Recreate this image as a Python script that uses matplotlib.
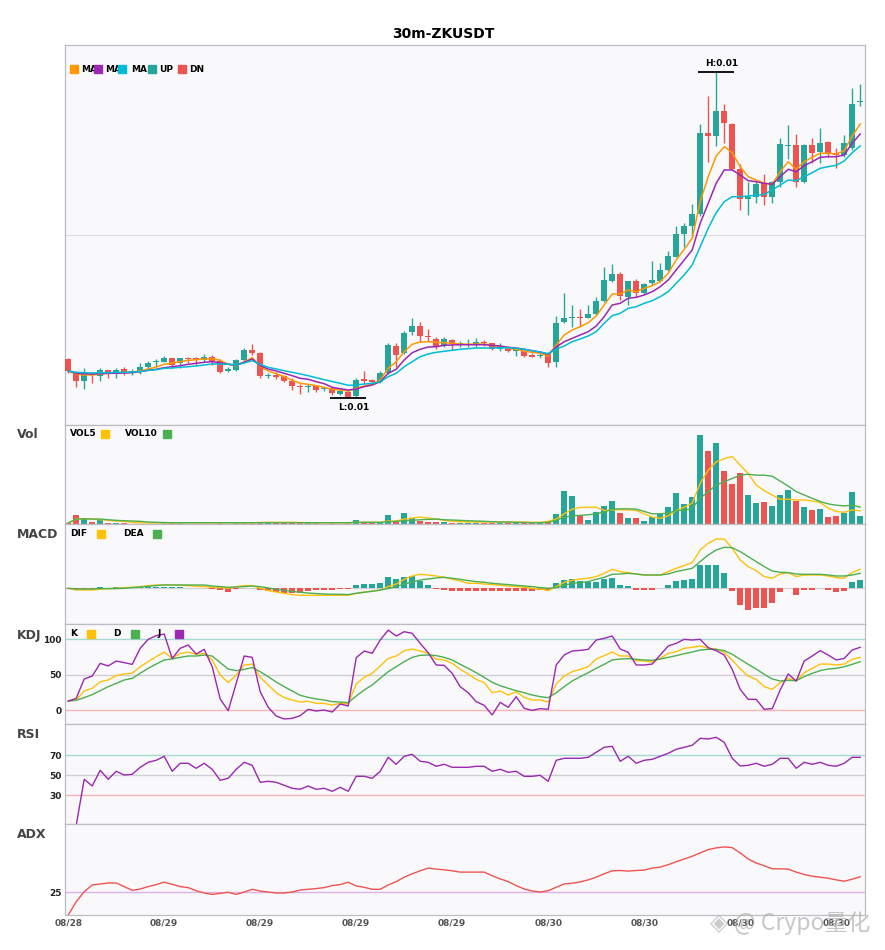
import numpy as np
import matplotlib.pyplot as plt
from matplotlib.patches import Rectangle

# values, prices in units of 1e-5 USDT
date_labels = ['08/28', '08/29', '08/29', '08/29', '08/29', '08/30', '08/30', '08/30', '08/30']
date_idx = [0, 12, 24, 36, 48, 60, 72, 84, 96]

opens = [866, 853.3, 844.3, 851.7, 849.3, 855, 851.7, 856, 853, 854.3,
         857.7, 863, 863.3, 866.7, 861.7, 867.3, 867.3, 865, 868.3, 864.3,
         854.3, 855, 865, 875, 872.3, 849.3, 850, 849.3, 844.3, 839.3,
         837.7, 839.3, 836.3, 836.5, 831.3, 833.3, 829, 845.7, 845, 843.3,
         851.7, 879, 871.7, 892.7, 899.3, 889.3, 886, 880, 885, 880.7,
         880.3, 880, 883.3, 881.7, 876, 878.3, 874.3, 874.3, 869.7, 869,
         871.7, 863.3, 903.3, 907.3, 908.3, 907.3, 911, 924, 944.3, 951,
         928.3, 944, 931.7, 941.7, 944.3, 955, 968.3, 991, 999, 1011,
         1091.7, 1089.3, 1114, 1101, 1056, 1026, 1028.3, 1041.7, 1028.3, 1042.7,
         1079.3, 1080, 1042.7, 1080, 1073.3, 1083, 1072.3, 1070, 1076.7, 1122.7]
highs = [867.3, 854, 856.7, 852, 856.7, 855, 856.7, 858.3, 856, 861.7,
         864, 866, 869.3, 867, 867, 868.3, 868.3, 870.7, 870, 866,
         857.7, 866, 876.7, 881, 873.3, 852.3, 852.7, 850, 846.7, 840.7,
         840.7, 840, 838.3, 837.5, 835.5, 834.5, 846.7, 854, 845.7, 854,
         881.7, 881.7, 894, 907.3, 902.7, 896, 888.3, 888.3, 886, 884.3,
         885.7, 887.3, 885, 882.3, 881.7, 879.3, 878.3, 875, 872.3, 873.3,
         873.3, 909, 931.7, 920, 915.7, 920, 928.3, 957.7, 961, 952.7,
         944, 945.7, 942.3, 964.3, 962.3, 974, 999, 1001.7, 1021, 1101,
         1129, 1153.3, 1121, 1102.3, 1061, 1043.3, 1043.3, 1051, 1044.3, 1087.3,
         1100, 1090.7, 1081, 1087.3, 1097.3, 1084, 1077.3, 1090, 1136.7, 1141]
lows = [851.7, 838.3, 835.7, 842.3, 844.3, 847.3, 846.7, 850, 850, 850.7,
        856.7, 858.3, 862.7, 856.7, 856.7, 861.7, 860, 863.3, 860, 851.7,
        852.7, 854.3, 864, 870, 846.7, 846.7, 845.7, 842.7, 835, 831,
        832.7, 833.3, 834, 830, 829.5, 827.3, 828.3, 842.3, 841.7, 842.3,
        851, 858.3, 871, 890, 883.3, 884.3, 876, 878.3, 875, 878.3,
        878.3, 878.3, 879.3, 875, 874.3, 873.3, 869.3, 868.3, 867.7, 866.7,
        858.3, 857.7, 902.3, 898.3, 899, 906.7, 910, 923.3, 943.3, 925,
        920, 928.3, 930.7, 940, 943.3, 954.3, 967.7, 977.7, 988.3, 1009,
        1063.3, 1079, 1081.7, 1055, 1015, 1010, 1022.3, 1020, 1021.7, 1038.3,
        1065.7, 1038.3, 1042.3, 1062.3, 1062.3, 1067.7, 1056.7, 1068.3, 1075, 1119]
closes = [854.3, 844.3, 851.7, 850, 855, 852.3, 855, 852.3, 853.5, 857.7,
          862, 863.5, 867.3, 860, 866.7, 866, 865, 868.3, 864, 853.3,
          855.7, 865, 875, 871.7, 849.3, 850, 848, 844.3, 839, 837.7,
          839.3, 835, 836.7, 831.7, 834, 828.3, 845, 843.7, 843, 852.3,
          880, 870, 892.3, 899.3, 889.3, 887.7, 878.3, 886, 881, 881.7,
          881, 882.7, 881.7, 876, 879.3, 874.3, 876.7, 869.3, 868.3, 870,
          861.7, 901.7, 906.7, 908.3, 907.3, 911, 924, 945, 951, 929,
          944, 931.7, 941, 945, 955, 969, 991, 999, 1011, 1091.7,
          1089.3, 1114, 1102.3, 1056, 1026, 1028.3, 1041, 1028.3, 1042.7, 1081,
          1080, 1042.7, 1080, 1072.3, 1082.3, 1072.3, 1070, 1082.3, 1121, 1123]

ma5 = [854, 851, 850, 850, 851, 851.7, 852.3, 852.7, 853, 854,
       856, 858, 860.7, 862, 863.3, 864.7, 865.3, 866, 866.3, 864.7,
       860.7, 859.3, 863.3, 867.3, 858.3, 854, 851.3, 848.3, 844.7, 841.7,
       840.7, 839.3, 837.7, 835.7, 835, 834, 836.7, 839, 841, 845,
       856.7, 863.3, 873.3, 880.7, 883, 883.3, 882.7, 882.3, 881.7, 881,
       880.7, 881, 881, 879.7, 878.3, 877, 875.7, 873.7, 872.7, 871.7,
       869, 880, 890, 895, 898.3, 902.3, 909, 920, 931, 931,
       935, 933.3, 936.7, 939.3, 943.3, 951.7, 965, 975.7, 986.7, 1023.3,
       1048.3, 1069, 1078.3, 1072.3, 1058.3, 1048.3, 1045, 1041.7, 1041, 1053.3,
       1063.3, 1055.7, 1063.3, 1067.7, 1071.7, 1071.7, 1071, 1074.3, 1089, 1101]
ma10 = [854, 851.7, 851.3, 851, 851.3, 851.7, 851.7, 852, 852.3, 853.3,
        854.7, 855.7, 857.3, 858.3, 859.3, 860.7, 861.7, 862.7, 863.3, 862.3,
        860.7, 860, 862.7, 866, 859.3, 856, 854, 851.7, 849.3, 846.7,
        845.7, 843.3, 841.3, 837.7, 836.3, 835, 836, 838.3, 840, 843.3,
        851.7, 855.7, 865, 872.3, 875.7, 878, 878.3, 879.7, 880, 880.3,
        880.3, 880.3, 880.3, 879.7, 879, 877.7, 877, 875.7, 874.3, 873,
        870.7, 878, 883.3, 886.7, 890, 893.3, 899, 908.3, 920, 921.7,
        926.7, 927.7, 930, 933.3, 938.3, 945, 955, 965, 975, 1001.7,
        1021.7, 1041.7, 1055, 1055, 1050, 1044.3, 1043.3, 1041.7, 1040.7, 1048.3,
        1055.7, 1053.3, 1059.3, 1063.3, 1067.7, 1068.3, 1068.3, 1070, 1081.7, 1091]
ma20 = [854, 852.7, 852.3, 852, 852.3, 852.3, 852.7, 852.7, 853, 853.3,
        854.7, 855.3, 856.7, 857, 857.7, 858.3, 859, 860, 861, 861,
        860.7, 860, 862, 864.3, 860.7, 857.7, 856, 854.3, 852.7, 851,
        849.3, 847.3, 845.3, 843.5, 841.7, 839.7, 840, 841, 841.7, 843.3,
        848.3, 851.7, 858.3, 863.3, 868.3, 871, 872.7, 873.7, 874.7, 875.7,
        876.3, 877, 877, 877, 877.3, 877.3, 876.7, 875.7, 874.3, 873,
        871.3, 876, 879, 883.3, 886, 889, 893.3, 901.7, 909.3, 911.7,
        916.7, 918.3, 921.7, 924.3, 928.3, 933.3, 941.7, 950, 960, 978.3,
        996.7, 1012.3, 1023.3, 1028.3, 1028.3, 1029, 1029.7, 1030.7, 1035, 1040,
        1045, 1044.3, 1048.3, 1052.3, 1056.7, 1058.3, 1059.7, 1064, 1072.3, 1079]

volume = [1.3, 9, 4.7, 2, 4, 1, 1.3, 1, 0.5, 0.5,
          0.5, 0.5, 0.7, 2, 0.7, 0.5, 0.5, 0.5, 0.5, 0.7,
          0.5, 0.7, 1, 0.7, 2, 2, 1, 2, 1, 0.7,
          1, 0.7, 0.5, 0.7, 0.5, 0.7, 4, 1, 1, 1.3,
          9, 1.7, 11, 5.7, 3, 1.7, 2, 2.3, 1.3, 1.3,
          0.7, 0.7, 0.7, 1, 0.7, 0.7, 0.7, 1, 0.7, 0.7,
          2, 10, 33.3, 28, 9, 4, 12, 18, 23, 11,
          6, 6, 3, 7, 10, 17, 31, 20, 27, 90.3,
          74, 82, 54, 40, 52, 29, 21, 22, 18, 29,
          34, 23, 17, 14, 15, 7, 8, 11, 32, 8]
vol5 = [1, 5, 5.3, 5, 4.3, 3.7, 3, 2.7, 1.5, 1.3,
        1, 1, 1, 1.2, 1, 1, 1, 1, 1, 1,
        1, 1, 1, 1, 1.5, 1.7, 1.7, 1.7, 1.7, 1.5,
        1.3, 1.2, 1, 1, 1, 1, 1.7, 1.7, 1.7, 1.7,
        3, 3, 5, 6, 7, 6, 5, 3.7, 2.7, 2.3,
        2, 2, 2, 2, 2, 2, 2, 2, 1.7, 1.7,
        2.7, 5, 10.3, 15, 16.7, 17, 17, 13.7, 14.3, 14.3,
        14.3, 13.7, 10.3, 7, 5.7, 8.3, 13.7, 17, 21, 41,
        54.3, 62.7, 66, 68.3, 59.3, 51, 39.3, 33.7, 29.3, 25,
        25, 24.3, 24.3, 23.3, 21.7, 16, 12.7, 11.7, 14.3, 13.3]
vol10 = [1, 5, 5.3, 5, 5, 4.3, 3.7, 3.3, 3, 2.7,
         2, 1.7, 1.5, 1.3, 1.3, 1.3, 1.3, 1.3, 1.3, 1.3,
         1.3, 1.3, 1.3, 1.3, 1.3, 1.3, 1.3, 1.3, 1.3, 1.3,
         1.3, 1.3, 1.3, 1.3, 1.3, 1.3, 1.7, 1.7, 1.7, 1.7,
         2.3, 2.7, 3.3, 3.7, 4.3, 4.7, 5, 4.3, 4, 3.7,
         3.3, 3, 2.7, 2.3, 2, 2, 1.7, 1.5, 1.3, 1.3,
         1.7, 3.7, 7, 8.3, 8.7, 9.3, 10.3, 12, 15, 15.3,
         15.3, 15, 12.7, 10.3, 10.3, 11, 13.7, 13.7, 16, 26,
         32.7, 39.3, 42.7, 46, 49.3, 50.3, 49.3, 49.3, 48.3, 43.3,
         38.3, 32.7, 29.3, 26, 22.7, 20.3, 19, 18.3, 19, 17]

macd_hist = [-1, -1, -1, -1, 1.3, 0.3, 1, 1, 0.7, 1,
             1.3, 1.3, 1.3, 1.3, 1, 0.7, 0.3, 0, -0.3, -1.5,
             -3.5, -1, 0.5, 0.5, -1.7, -3, -4, -4.5, -5, -5,
             -2.3, -2, -1.5, -1.5, -0.7, -0.7, 3.3, 4.3, 4.3, 5.3,
             11.3, 9.3, 11.3, 12.3, 7.3, 3.3, -0.7, -1.7, -3, -3,
             -3, -3, -2.3, -3, -3, -3, -2.3, -3, -3, -2,
             -1.7, 5, 8, 9, 7.3, 6.7, 6.3, 9.3, 10, 3.3,
             2, -1.3, -1.3, -1.3, 0, 3.3, 7, 8, 9.3, 23.3,
             23.3, 23.3, 15.3, -2.3, -16.7, -21.7, -19.7, -19.7, -14.7, -3.7,
             0, -6.3, -1.3, -1.3, 0, -1.3, -3.3, -2.3, 6.3, 8.3]
dif = [0, -1.7, -1.7, -1.7, -1, -0.3, 0, 0.7, 1, 1.7,
       2.7, 3.3, 3.3, 3.3, 3, 2.7, 2, 1.7, 1, 0.7,
       0, 1.7, 2.7, 2.7, 0, -2.3, -3.7, -5, -6.3, -7,
       -7, -7, -7, -7, -7, -7, -5, -3.7, -2.7, -2,
       1.7, 4.3, 9, 12.3, 14, 13.3, 12.3, 11, 9, 7.3,
       5, 5, 4.3, 3.7, 3, 2.3, 1.7, 1, 0, -0.7,
       -2.3, 1.7, 6, 8, 9.3, 10, 11.7, 15, 19, 16.7,
       15.7, 14.3, 13.3, 13.3, 13.3, 16.7, 20, 22.7, 25.7, 38.3,
       45, 49.3, 49.3, 40, 28.3, 21.7, 17.7, 11.7, 10, 14.3,
       15.7, 11.7, 13.3, 13.3, 13.3, 12.3, 10.7, 10, 15.7, 19]
dea = [0, -0.7, -0.7, -0.7, -0.3, -0.3, -0.3, 0, 0.7, 1.3,
       2, 2.7, 3.3, 3.3, 3.3, 3.3, 3.3, 3.3, 2.3, 1.7,
       1, 1.3, 1.7, 2.3, 1.7, 0.3, -1, -2, -3, -4,
       -4.7, -5.3, -5.7, -6, -6, -6.3, -5, -4, -3, -1.7,
       -0.3, 1.7, 4.3, 6.3, 8.3, 9.3, 10.3, 11, 10, 9,
       7.7, 6.7, 6, 5, 4.3, 3.7, 3, 2.3, 1.7, 0.7,
       0, 0.7, 3, 5, 5.7, 6.7, 9, 11, 14, 14.3,
       15, 14.3, 13.3, 13.3, 13.3, 14.3, 16.7, 18.3, 20, 26.7,
       33.3, 38.3, 41, 40.7, 36.7, 31.7, 26.7, 21.7, 17.3, 16,
       15.7, 14.3, 14, 14, 14, 13.3, 12.3, 12.3, 13.3, 15]

k_line = [12.7, 14, 27, 30.7, 40, 42.5, 48.6, 51, 52, 61.3,
          68.4, 75.5, 82, 73, 80, 82, 78.8, 80, 70.8, 49.5,
          38.7, 49.5, 63.7, 65, 46.2, 35.4, 24.5, 17.5, 14.2, 11.3,
          12.3, 9.4, 9.4, 7, 9.4, 8.5, 36.8, 46.2, 52, 62.3,
          73, 76.4, 84, 86.3, 83.5, 80, 72, 70.8, 66, 57.5,
          51, 43.4, 38.7, 24.5, 26.9, 21.2, 26, 17.9, 14.2, 14.2,
          11.3, 36.8, 48, 54.2, 57.5, 61.3, 72.2, 76.9, 82, 76.4,
          76.4, 69.8, 69.3, 67.9, 73, 80, 82.5, 87.3, 88.7, 90.6,
          87.3, 86.3, 81.6, 70.8, 58, 48, 43.4, 33, 29.2, 38.7,
          44.8, 41, 52.8, 59, 65, 65, 63.7, 65, 71.7, 74.5]
d_line = [12.7, 13.7, 17.5, 21.7, 27.4, 33, 37.7, 42.5, 44.8, 52,
          59, 65, 70.8, 72.2, 74.5, 76.4, 76.4, 77.8, 76.4, 67,
          58, 55.7, 57.5, 60, 54.2, 47.2, 39.6, 33, 26.9, 20.8,
          17.9, 15.6, 14.2, 11.8, 11.3, 10.4, 19.8, 28.3, 35.4, 44.8,
          54.2, 61.3, 68.4, 74.5, 77.4, 77.8, 77, 74.5, 70.8, 64.6,
          59, 52.8, 46.2, 39.2, 34.4, 30.7, 27.4, 24.5, 21.2, 18.9,
          17.5, 24.5, 33, 41, 47.2, 52.8, 59, 64.6, 70.8, 72.2,
          72.6, 71.7, 70.8, 70.3, 72.2, 74.5, 76.9, 79.7, 82, 84.9,
          85.8, 85.8, 84, 78.8, 71.7, 64.6, 58, 50.5, 43.9, 41,
          42, 41.5, 47.2, 51.9, 55.7, 58, 59, 61.3, 64.6, 68.4]
j_line = [12.7, 16.5, 43.9, 48, 66, 62.3, 69.3, 67, 64.6, 87.3,
          100, 105.2, 107.5, 73, 87.3, 92, 79.2, 85.8, 61.3, 15.6,
          -1, 37.7, 76.4, 74.5, 26, 3.8, -8.5, -12.7, -11.8, -8,
          1, -1.4, 0, -2.8, 8.5, 5.7, 74, 83.5, 80.2, 99,
          113, 104.7, 110.8, 108.5, 94.3, 81, 63.7, 63.2, 51.9, 33,
          24.5, 11.8, 6.6, -7, 10.8, 3.8, 18.9, 2.4, -0.5, 1.9,
          1, 63.7, 77.8, 83.5, 84.4, 85.8, 99, 101.4, 104.7, 86.3,
          81.6, 63.7, 63.7, 65, 77.8, 90.6, 94.3, 100, 99, 100,
          88.2, 84, 77.8, 57.5, 29.2, 15.1, 15.1, 1, 1.9, 28.3,
          51, 41, 69.3, 76.4, 84, 77.8, 70.8, 73, 84.9, 88.7]

rsi = [np.nan, 0, 46, 39.3, 55, 46, 54, 50.3, 51, 58,
       63, 65, 69, 54, 62, 62, 57, 62, 56, 45,
       47, 56, 63, 60, 43, 44, 43, 40, 37, 36,
       39.3, 36, 37, 34, 38, 34, 49, 49, 47, 54,
       68, 61, 69, 71, 64, 63, 59, 61, 58, 58,
       58, 59, 59, 54, 56, 53, 54, 49, 49, 50,
       44, 65, 67, 67, 67, 68, 73, 78, 79, 64,
       69, 62, 65, 66, 69, 72, 76, 78, 80, 87,
       86.3, 88, 83, 67, 59.3, 60, 62, 59, 61, 67,
       67, 57, 63, 61, 63, 60, 59, 62, 68, 68]

adx = [2, 15.2, 25.3, 32, 33, 34, 34, 30.4, 26.7, 28,
       30.4, 32.4, 34.8, 32.7, 30.4, 29.4, 26.3, 24, 22.6, 23.7,
       24.7, 22.6, 25, 27.7, 26, 25, 24, 24, 25, 27,
       27.7, 28.4, 29.4, 31.4, 32.4, 34.8, 31, 29.7, 27.7, 27.7,
       32, 35.4, 39.8, 43.2, 46.2, 48.9, 47.9, 47.2, 46.2, 44.9,
       44.9, 44.9, 44.9, 41.2, 38.1, 35.4, 31.4, 28, 26, 25,
       26.3, 29.7, 33.1, 33.8, 35.1, 37.1, 39.8, 43.2, 46.2, 46.5,
       45.9, 46.5, 46.9, 48.9, 49.9, 52.3, 55.3, 58, 60.7, 64.1,
       67.4, 69.1, 70.1, 69.4, 64.1, 58, 54, 51.3, 48.2, 48.2,
       47.9, 44.9, 42.5, 40.8, 39.8, 38.8, 37.1, 35.8, 37.8, 40.2]

UP = '#26a69a'
DN = '#ef5350'
BG = '#f9f9fc'
W, H = 885.0, 950.0

o = np.array(opens) * 1e-5
h = np.array(highs) * 1e-5
l = np.array(lows) * 1e-5
c = np.array(closes) * 1e-5
x = np.arange(len(o))
up = c >= o
colors = np.where(up, UP, DN)

fig = plt.figure(figsize=(8.85, 9.5), dpi=100)


def panel(top, bottom):
    ax = fig.add_axes([65 / W, 1 - bottom / H, 800 / W, (bottom - top) / H])
    ax.set_facecolor(BG)
    ax.set_xlim(-0.4, 99.6)
    for s in ax.spines.values():
        s.set_color('#bcbcc4')
        s.set_linewidth(0.9)
    ax.tick_params(length=0, labelsize=6.5, pad=2.5, colors='#222222')
    ax.set_xticks([])
    ax.set_yticks([])
    return ax


def square(px, py, color):
    fig.patches.append(Rectangle((px / W, 1 - (py + 4) / H), 8 / W, 8 / H,
                                 transform=fig.transFigure, color=color, zorder=6))


def label(px, py, txt):
    fig.text(px / W, 1 - py / H, txt, fontsize=6.5, fontweight='bold',
             va='center', ha='left', zorder=5)


# main candle panel
ax = panel(45, 425)
ax.set_ylim(800e-5, 1180e-5)
ax.axhline(990e-5, color='#dcdce2', lw=0.8, zorder=0)
ax.vlines(x, l, h, colors=colors, lw=1.0, zorder=2)
body = np.maximum(np.abs(c - o), 0.9e-5)
ax.bar(x, body, 0.72, bottom=np.minimum(o, c), color=colors, zorder=3)
ax.plot(x, np.array(ma5) * 1e-5, color='#ff9800', lw=1.1, zorder=4)
ax.plot(x, np.array(ma10) * 1e-5, color='#9c27b0', lw=1.1, zorder=4)
ax.plot(x, np.array(ma20) * 1e-5, color='#00bcd4', lw=1.1, zorder=4)

hi = int(np.argmax(h))
lo = int(np.argmin(l))
ax.hlines(h[hi], hi - 2.25, hi + 2.25, color='black', lw=1.3, zorder=5)
ax.annotate(f'H:{h[hi]:.2f}', (hi, h[hi]), xytext=(4, 2.5), textcoords='offset points',
            ha='center', va='bottom', fontsize=6.5, fontweight='bold')
ax.hlines(l[lo], lo - 2.25, lo + 2.25, color='black', lw=1.3, zorder=5)
ax.annotate(f'L:{l[lo]:.2f}', (lo, l[lo]), xytext=(4, -3.5), textcoords='offset points',
            ha='center', va='top', fontsize=6.5, fontweight='bold')

for sx, tx, col, txt in [(70, 81, '#ff9800', 'MA'), (94, 105, '#9c27b0', 'MA'),
                         (118, 131, '#00bcd4', 'MA'), (148, 159, UP, 'UP'), (178, 189, DN, 'DN')]:
    label(tx, 69, txt)
    square(sx, 69, col)

fig.text(443 / W, 1 - 34 / H, '30m-ZKUSDT', ha='center', va='center',
         fontsize=10, fontweight='bold')

# volume
av = panel(425, 524)
av.set_ylim(0, 100)
av.bar(x, volume, 0.72, color=colors)
av.plot(x, vol5, color='#ffc107', lw=1.0)
av.plot(x, vol10, color='#4caf50', lw=1.0)
label(70, 434, 'VOL5'); square(101, 434, '#ffc107')
label(125, 434, 'VOL10'); square(163, 434, '#4caf50')

# macd
am = panel(524, 624)
am.set_ylim(-35.7, 64.3)
am.axhline(0, color='#d0d0d6', lw=0.9, zorder=0)
hist = np.array(macd_hist)
am.bar(x, hist, 0.72, color=np.where(hist >= 0, UP, DN))
am.plot(x, dif, color='#ffc107', lw=1.0)
am.plot(x, dea, color='#4caf50', lw=1.0)
label(70, 534, 'DIF'); square(97, 534, '#ffc107')
label(123, 534, 'DEA'); square(153, 534, '#4caf50')

# kdj
ak = panel(624, 724)
ak.set_ylim(-19.8, 121.7)
ak.axhline(100, color='#a6d8d2', lw=1.0, zorder=0)
ak.axhline(50, color='#cfcfd4', lw=1.0, zorder=0)
ak.axhline(0, color='#f5b3b3', lw=1.0, zorder=0)
ak.plot(x, k_line, color='#ffc107', lw=1.0)
ak.plot(x, d_line, color='#4caf50', lw=1.0)
ak.plot(x, j_line, color='#9c27b0', lw=1.0)
ak.set_yticks([0, 50, 100])
label(70, 634, 'K'); square(87, 634, '#ffc107')
label(113, 634, 'D'); square(131, 634, '#4caf50')
label(157, 634, 'J'); square(175, 634, '#9c27b0')

# rsi
ar = panel(724, 824)
ar.set_ylim(1.3, 101.3)
ar.axhline(70, color='#a6d8d2', lw=1.0, zorder=0)
ar.axhline(50, color='#cfcfd4', lw=1.0, zorder=0)
ar.axhline(30, color='#f5b3b3', lw=1.0, zorder=0)
ar.plot(x, rsi, color='#9c27b0', lw=1.0)
ar.set_yticks([30, 50, 70])

# adx
aa = panel(824, 915)
aa.set_ylim(2, 93)
aa.axhline(25, color='#dcb2e6', lw=1.0, zorder=0)
aa.plot(x, adx, color=DN, lw=1.0)
aa.set_yticks([25])
aa.set_xticks(date_idx)
aa.set_xticklabels(date_labels, color='#555555')

for a in (ak, ar, aa):
    for t in a.get_yticklabels() + a.get_xticklabels():
        t.set_fontweight('bold')

for ypix, name in [(435, 'Vol'), (535, 'MACD'), (635, 'KDJ'), (735, 'RSI'), (835, 'ADX')]:
    fig.text(17 / W, 1 - ypix / H, name, fontsize=9, fontweight='bold',
             color='#444444', va='center', ha='left')

# watermark of the source platform, semi transparent over the date labels
fig.text(719 / W, 1 - 923 / H, '◈', fontsize=17, color='#b8b8b8', alpha=0.7,
         va='center', ha='center', zorder=10)
fig.text(734 / W, 1 - 923 / H, '@ Crypo量化', fontsize=16.5, color='#b0b0b0', alpha=0.7,
         va='center', ha='left', family=['Noto Sans CJK SC', 'DejaVu Sans'], zorder=10)

fig.savefig('out.png', dpi=100)
